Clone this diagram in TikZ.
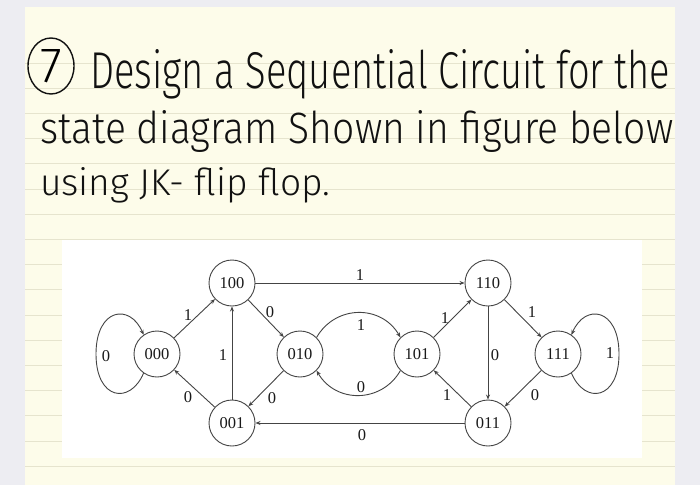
\documentclass[tikz,border=0pt]{standalone}
\usepackage{fontspec}
\setmainfont{Liberation Serif}
\newfontfamily\hand{Fira Sans Light}
\usetikzlibrary{arrows.meta,shapes.geometric}
\definecolor{outer}{HTML}{EDEDF2}
\definecolor{paper}{HTML}{FDFCEA}
\definecolor{rulec}{HTML}{E6E4CE}
\definecolor{ink}{HTML}{111111}
\definecolor{diag}{HTML}{444444}
\begin{document}
\begin{tikzpicture}[x=1pt,y=1pt,
  state/.style={circle,draw=diag,line width=0.9pt,minimum size=46pt,inner sep=0pt,font=\fontsize{16.5}{16.5}\selectfont,text=black!90},
  lbl/.style={font=\fontsize{16.5}{16.5}\selectfont,text=black!90,inner sep=0pt},
  arr/.style={draw=diag,line width=0.9pt,-{Stealth[length=5pt,width=4pt]}},
  hw/.style={anchor=base west,inner sep=0pt,text=ink}]
\useasboundingbox (0,0) rectangle (700,-485);
\fill[outer] (0,0) rectangle (700,-485);
\fill[paper] (25,-7) rectangle (675,-485);
\foreach \k in {0,...,16} \draw[rulec,line width=0.8pt] (25,{-63-25.2*\k}) -- (675,{-63-25.2*\k});
\fill[white] (62,-240) rectangle (642,-458);

% handwritten title
\node[draw=ink,ellipse,line width=1.4pt,minimum width=46pt,minimum height=56pt,inner sep=0pt] (seven) at (51,-66) {\hand\resizebox{!}{33pt}{7}};
\node[hw] (t1) at (90,-88) {\hand\resizebox{580pt}{39pt}{Design a Sequential Circuit for the}};
\node[hw] (t2) at (40,-143) {\hand\resizebox{633pt}{33pt}{state diagram Shown in figure below}};
\node[hw] (t3) at (40,-195) {\hand\resizebox{290pt}{28pt}{using JK- flip flop.}};

% states
\node[state] (n100) at (232,-283) {100};
\node[state] (n110) at (488,-283) {110};
\node[state] (n000) at (157,-354) {000};
\node[state] (n010) at (300,-354) {010};
\node[state] (n101) at (417,-354) {101};
\node[state] (n111) at (558,-354) {111};
\node[state] (n001) at (232,-423) {001};
\node[state] (n011) at (488,-423) {011};

% straight transitions
\draw[arr] (n000) -- (n100);
\draw[arr] (n100) -- (n010);
\draw[arr] (n001) -- (n100);
\draw[arr] (n001) -- (n000);
\draw[arr] (n010) -- (n001);
\draw[arr] (n100) -- (n110);
\draw[arr] (n011) -- (n001);
\draw[arr] (n101) -- (n110);
\draw[arr] (n110) -- (n011);
\draw[arr] (n011) -- (n101);
\draw[arr] (n110) -- (n111);
\draw[arr] (n111) -- (n011);

% arcs between 010 and 101
\draw[arr] (n010.45) .. controls +(60:38) and +(120:38) .. (n101.135);
\draw[arr] (n101.225) .. controls +(240:38) and +(300:38) .. (n010.315);

% self loops
\coordinate (lp000) at (96,-354);
\coordinate (lp111) at (619,-354);
\draw[arr] (n000.235) .. controls (130,-405) and (96,-400) .. (lp000) .. controls (96,-308) and (130,-303) .. (n000.125);
\draw[arr] (n111.305) .. controls (585,-405) and (619,-400) .. (lp111) .. controls (619,-308) and (585,-303) .. (n111.55);

% labels
\node[lbl] (a1) at (188,-315) {1};
\node[lbl] (a2) at (270,-312) {0};
\node[lbl] (a3) at (223,-355) {1};
\node[lbl] (a4) at (188,-397) {0};
\node[lbl] (a5) at (272,-398) {0};
\node[lbl] (a6) at (360,-275) {1};
\node[lbl] (a7) at (362,-435) {0};
\node[lbl] (a8) at (361,-325) {1};
\node[lbl] (a9) at (361,-387) {0};
\node[lbl] (a10) at (445,-318) {1};
\node[lbl] (a11) at (532,-312) {1};
\node[lbl] (a12) at (495,-355) {0};
\node[lbl] (a13) at (447,-395) {1};
\node[lbl] (a14) at (535,-395) {0};
\node[lbl] (a15) at (106,-356) {0};
\node[lbl] (a16) at (610,-353) {1};
\end{tikzpicture}
\end{document}
